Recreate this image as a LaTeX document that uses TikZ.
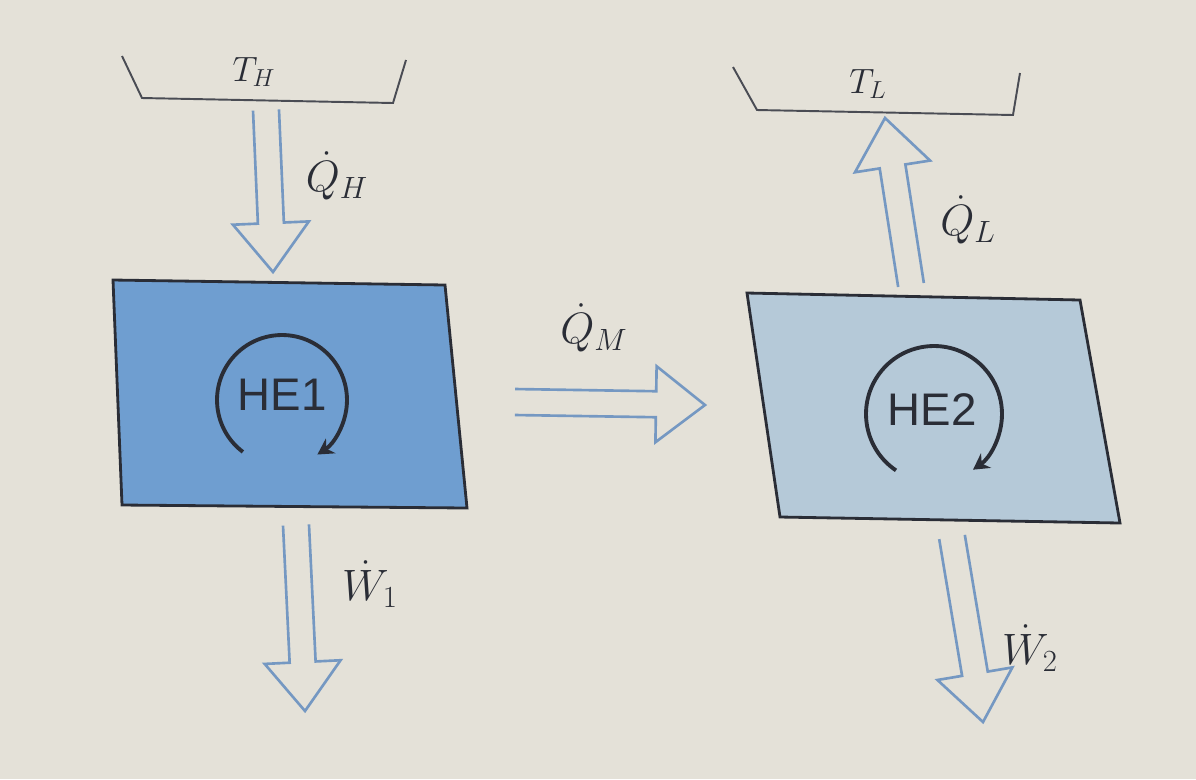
\documentclass[tikz,border=0pt]{standalone}
\usepackage{fix-cm}
\usepackage{amsmath}
\usepackage{fontspec}
\setsansfont{Liberation Sans}
\usetikzlibrary{calc,arrows.meta}

\definecolor{paper}{HTML}{E4E1D8}
\definecolor{hotblue}{HTML}{6F9ED0}
\definecolor{coldblue}{HTML}{B5C9D8}
\definecolor{flowblue}{HTML}{7598C2}
\definecolor{ink}{HTML}{2A2D36}

\tikzset{
  reservoir/.style={draw=ink!85, line width=1.1pt},
  engine/.style={draw=ink, line width=1.6pt, line join=miter},
  flow/.style={draw=flowblue, line width=1.5pt, line join=miter},
  cyclearrow/.style={draw=ink, line width=2.2pt, -{Stealth[length=9pt,width=10pt]}},
  tlbl/.style={text=ink, font=\fontsize{20}{22}\selectfont},
  qlbl/.style={text=ink, font=\fontsize{25}{27}\selectfont},
  helbl/.style={text=ink, font=\sffamily\fontsize{26}{28}\selectfont},
}

% hollow heat arrow from #1 (tail) to #2 (tip)
\newcommand{\heatflow}[2]{%
  \coordinate (neck) at ($(#2)!0.98cm!(#1)$);
  \draw[flow] ($(#1)!0.26cm!90:(#2)$) -- ($(neck)!0.26cm!90:(#2)$)
    -- ($(neck)!0.76cm!90:(#2)$) -- (#2)
    -- ($(neck)!0.76cm!-90:(#2)$) -- ($(neck)!0.26cm!-90:(#2)$)
    -- ($(#1)!0.26cm!-90:(#2)$);
}

\begin{document}
\begin{tikzpicture}[x=0.02cm,y=-0.02cm]
  \fill[paper] (0,0) rectangle (1196,779);
  \useasboundingbox (0,0) rectangle (1196,779);

  % reservoirs
  \draw[reservoir] (122,56) -- (142,98) -- (393,103) -- (406,60);
  \node[tlbl] (TH) at (254,72) {$T_H$};
  \draw[reservoir] (733,67) -- (757,110) -- (1013,115) -- (1020,73);
  \node[tlbl] (TL) at (868,84) {$T_L$};

  % engines
  \draw[engine, fill=hotblue] (113,280) -- (445,285) -- (467,508) -- (122,505) -- cycle;
  \node[helbl] (HE1) at (282,395) {HE1};
  \coordinate (c1) at (282,400);
  \draw[cyclearrow] ([shift={(233:1.3cm)}]c1) arc[start angle=233, end angle=-57, radius=1.3cm];

  \draw[engine, fill=coldblue] (747,293) -- (1080,300) -- (1120,523) -- (780,517) -- cycle;
  \node[helbl] (HE2) at (932,410) {HE2};
  \coordinate (c2) at (934,414);
  \draw[cyclearrow] ([shift={(236:1.36cm)}]c2) arc[start angle=236, end angle=-55, radius=1.36cm];

  % heat and work flows
  \coordinate (qh0) at (266,110); \coordinate (qh1) at (273,272);
  \coordinate (qm0) at (515,402); \coordinate (qm1) at (705,405);
  \coordinate (ql0) at (911,285); \coordinate (ql1) at (885,118);
  \coordinate (w10) at (296,525); \coordinate (w11) at (305,711);
  \coordinate (w20) at (952,537); \coordinate (w21) at (983,722);

  \heatflow{qh0}{qh1}
  \heatflow{qm0}{qm1}
  \heatflow{ql0}{ql1}
  \heatflow{w10}{w11}
  \heatflow{w20}{w21}

  \node[qlbl] (QH) at (337,176) {$\dot{Q}_H$};
  \node[qlbl] (QM) at (594,328) {$\dot{Q}_M$};
  \node[qlbl] (QL) at (968,220) {$\dot{Q}_L$};
  \node[qlbl] (W1) at (370,584) {$\dot{W}_1$};
  \node[qlbl] (W2) at (1030,648) {$\dot{W}_2$};
\end{tikzpicture}
\end{document}
